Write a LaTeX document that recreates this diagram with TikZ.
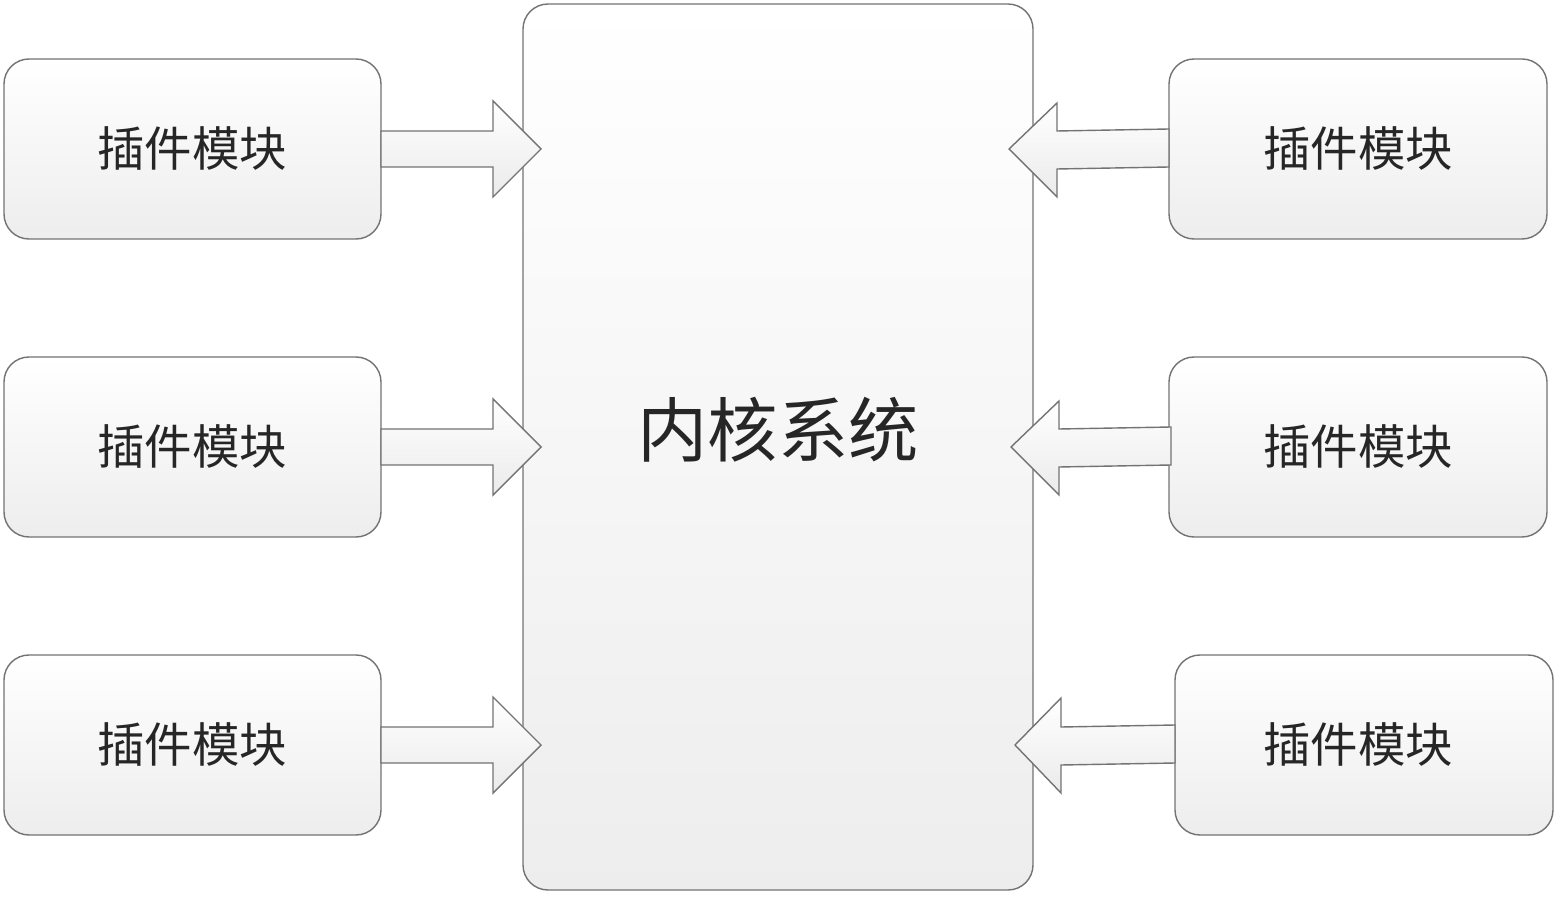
\documentclass[tikz,border=0pt]{standalone}
\usepackage{fontspec}
\newfontfamily\cjk{Noto Sans CJK SC}
\begin{document}
\begin{tikzpicture}[x=0.02cm,y=-0.02cm,
  box/.style={draw=black!55,line width=0.8pt,rounded corners=0.5cm,top color=white,bottom color=black!7},
  arr/.style={draw=black!55,line width=0.8pt,top color=white,bottom color=black!8},
  lbl/.style={font=\cjk\fontsize{27}{30}\selectfont,text=black!85}]
\useasboundingbox (0,0) rectangle (1562,898);
\path[box] (523,4) rectangle (1033,890);
\node[lbl,font=\cjk\fontsize{40}{44}\selectfont] (core) at (778,430) {内核系统};
\foreach \y/\n in {59/a,357/b,655/c}{
  \path[box] (4,\y) rectangle (381,\y+180);
  \node[lbl] (L\n) at (192,\y+90) {插件模块};
  \path[arr] (381,\y+72) -- (493,\y+72) -- (493,\y+42) -- (541,\y+90) -- (493,\y+138) -- (493,\y+108) -- (381,\y+108) -- cycle;
}
\foreach \y/\n/\xa/\xb in {59/a/1169/1547,357/b/1169/1547,655/c/1175/1553}{
  \path[box] (\xa,\y) rectangle (\xb,\y+180);
  \node[lbl] (R\n) at (1358,\y+90) {插件模块};
}
\path[arr] (1169,129) -- (1057,131) -- (1057,103) -- (1009,149) -- (1057,197) -- (1057,169) -- (1169,167) -- cycle;
\path[arr] (1171,427) -- (1059,429) -- (1059,401) -- (1011,447) -- (1059,495) -- (1059,467) -- (1171,465) -- cycle;
\path[arr] (1175,725) -- (1061,727) -- (1061,698) -- (1015,745) -- (1061,793) -- (1061,765) -- (1175,763) -- cycle;
\end{tikzpicture}
\end{document}
